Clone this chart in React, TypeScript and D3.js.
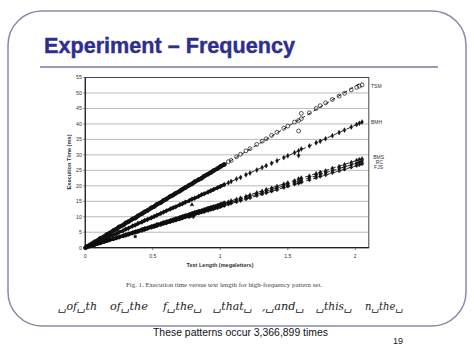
import React from "react";
import * as d3 from "d3";

const textLengths = [0.01, 0.03, 0.05, 0.07, 0.09, 0.11, 0.14, 0.16, 0.18, 0.21, 0.23, 0.25, 0.28, 0.30, 0.32, 0.35, 0.37, 0.39, 0.42, 0.44, 0.46, 0.49, 0.51, 0.53, 0.56, 0.58, 0.60, 0.63, 0.65, 0.67, 0.70, 0.72, 0.74, 0.77, 0.79, 0.81, 0.84, 0.86, 0.88, 0.91, 0.93, 0.95, 0.98, 1.00, 1.03, 1.06, 1.08, 1.12, 1.15, 1.19, 1.22, 1.27, 1.31, 1.34, 1.38, 1.42, 1.47, 1.50, 1.55, 1.58, 1.60, 1.66, 1.71, 1.74, 1.78, 1.83, 1.88, 1.92, 1.97, 2.01, 2.03, 2.05];

const tsm = [0.3, 0.8, 1.3, 1.9, 2.3, 3.0, 3.6, 4.3, 4.7, 5.6, 6.0, 6.7, 7.3, 8.0, 8.4, 9.3, 9.6, 10.3, 11.0, 11.6, 12.0, 12.9, 13.3, 14.0, 14.6, 15.3, 15.7, 16.6, 17.0, 17.6, 18.3, 18.9, 19.4, 20.2, 20.6, 21.3, 22.0, 22.4, 23.1, 23.8, 24.3, 24.9, 25.6, 26.2, 26.9, 27.8, 28.2, 29.4, 30.2, 31.3, 32.0, 33.4, 34.4, 35.2, 36.3, 37.3, 38.6, 39.3, 40.6, 41.1, 41.7, 43.6, 45.0, 45.9, 46.8, 47.9, 49.0, 49.9, 51.0, 51.8, 52.2, 52.6];

const bmh = [0.2, 0.6, 1.0, 1.4, 1.8, 2.2, 2.8, 3.2, 3.6, 4.2, 4.5, 5.0, 5.5, 6.0, 6.3, 7.0, 7.3, 7.8, 8.3, 8.8, 9.1, 9.7, 10.1, 10.5, 11.1, 11.5, 11.9, 12.5, 12.9, 13.2, 13.9, 14.2, 14.7, 15.2, 15.7, 16.0, 16.6, 17.1, 17.4, 18.0, 18.4, 18.8, 19.4, 19.8, 20.4, 21.0, 21.4, 22.2, 22.7, 23.6, 24.1, 25.1, 25.9, 26.5, 27.3, 28.1, 29.1, 29.7, 30.7, 31.3, 31.9, 32.9, 33.9, 34.4, 35.2, 36.2, 37.2, 38.0, 39.0, 39.8, 40.2, 40.6];

const bms = [0.2, 0.4, 0.7, 1.0, 1.3, 1.5, 2.0, 2.2, 2.6, 2.9, 3.3, 3.5, 3.9, 4.2, 4.5, 4.9, 5.2, 5.4, 5.9, 6.2, 6.4, 6.9, 7.1, 7.5, 7.8, 8.2, 8.4, 8.8, 9.1, 9.4, 9.8, 10.1, 10.4, 10.8, 11.1, 11.4, 11.8, 12.0, 12.3, 12.8, 13.0, 13.3, 13.7, 14.0, 14.5, 14.8, 15.2, 15.7, 16.1, 16.6, 17.1, 17.8, 18.3, 18.8, 19.3, 19.9, 20.6, 21.0, 21.7, 22.3, 22.6, 23.2, 24.0, 24.4, 24.9, 25.7, 26.3, 26.9, 27.6, 28.3, 28.5, 28.8];

const rc = [0.1, 0.4, 0.7, 0.9, 1.2, 1.5, 1.9, 2.2, 2.4, 2.9, 3.1, 3.4, 3.8, 4.1, 4.3, 4.8, 5.0, 5.3, 5.7, 6.0, 6.2, 6.7, 6.9, 7.2, 7.6, 7.9, 8.2, 8.6, 8.8, 9.1, 9.5, 9.8, 10.1, 10.5, 10.7, 11.0, 11.4, 11.7, 12.0, 12.4, 12.6, 12.9, 13.3, 13.6, 14.0, 14.4, 14.7, 15.2, 15.6, 16.2, 16.6, 17.3, 17.8, 18.2, 18.8, 19.3, 20.0, 20.4, 21.1, 21.4, 21.8, 22.6, 23.3, 23.7, 24.2, 24.9, 25.6, 26.1, 26.8, 27.3, 27.6, 27.9];

const fjs = [0.1, 0.4, 0.6, 0.9, 1.2, 1.4, 1.8, 2.1, 2.4, 2.8, 3.0, 3.3, 3.7, 3.9, 4.2, 4.6, 4.9, 5.1, 5.5, 5.8, 6.1, 6.5, 6.7, 7.0, 7.4, 7.7, 7.9, 8.3, 8.6, 8.8, 9.2, 9.5, 9.8, 10.0, 10.4, 10.7, 11.1, 11.4, 11.6, 12.0, 12.3, 12.5, 12.9, 13.2, 13.6, 14.0, 14.3, 14.8, 15.2, 15.7, 16.1, 16.8, 17.3, 17.7, 18.2, 18.7, 19.4, 19.8, 20.5, 20.8, 21.1, 21.9, 22.6, 23.0, 23.5, 24.2, 24.8, 25.3, 26.0, 26.5, 26.8, 27.1];

// isolated measurements that fall away from their series' band
const outlierSeries = ["TSM", "TSM", "BMH", "BMS", "RC", "FJS"];
const outlierLength = [1.58, 1.60, 1.58, 0.79, 0.37, 0.80];
const outlierTime = [37.7, 43.4, 29.8, 13.9, 3.6, 10.0];

const xTicks = [0, 0.5, 1, 1.5, 2];
const yTicks = [0, 5, 10, 15, 20, 25, 30, 35, 40, 45, 50, 55];
const patterns = ["␣of␣th", "of␣the", "f␣the␣", "␣that␣", ",␣and␣", "␣this␣", "n␣the␣"];
const patternX = [58, 110, 163, 213, 262, 316, 365];
const patternW = [39, 38, 39, 39, 42, 36, 38];

type Series = { name: string; values: number[]; marker: string; band: number };
const series: Series[] = [
  { name: "TSM", values: tsm, marker: "circle", band: 4.2 },
  { name: "BMH", values: bmh, marker: "diamond", band: 3.2 },
  { name: "BMS", values: bms, marker: "triangle", band: 3.4 },
  { name: "RC", values: rc, marker: "square", band: 2.5 },
  { name: "FJS", values: fjs, marker: "dash", band: 2.5 },
];

const W = 474, H = 355;
const plot = { left: 85.3, right: 368.8, top: 77.5, bottom: 247.7 };
const denseLimit = 1.05;

export default function App() {
  const x = d3.scaleLinear().domain([0, 2.1]).range([plot.left, plot.right]);
  const y = d3.scaleLinear().domain([0, 55]).range([plot.bottom, plot.top]);
  const sym = (m: string) => {
    const t = m === "circle" ? d3.symbolCircle : m === "diamond" ? d3.symbolDiamond : m === "triangle" ? d3.symbolTriangle : m === "square" ? d3.symbolSquare : d3.symbolCross;
    const size = m === "circle" ? 12 : m === "diamond" ? 7 : 6;
    return d3.symbol().type(t).size(size)() as string;
  };
  const markerOf = (name: string) => (series.find((s) => s.name === name) as Series).marker;
  const font = "'Liberation Sans', Arial, sans-serif";
  return (
    <svg width={W} height={H} style={{ position: "absolute", left: 0, top: 0, background: "#fff" }}>
      <rect x={8} y={11} width={458} height={315} rx={34} ry={34} fill="#fff" stroke="#8a8aa6" strokeWidth={1.5} />
      <text x={44} y={53.3} fontFamily={font} fontWeight="bold" fontSize={22} fill="#2e2e8e" stroke="#2e2e8e" strokeWidth={0.4} textLength={251} lengthAdjust="spacingAndGlyphs">Experiment – Frequency</text>
      <line x1={40} x2={438} y1={67} y2={67} stroke="#9a9ab8" strokeWidth={2.2} />

      {yTicks.filter((t) => t > 0 && t < 55).map((t) => (
        <line key={"g" + t} x1={plot.left} x2={plot.right} y1={y(t)} y2={y(t)} stroke="#a8a8a8" strokeWidth={0.8} />
      ))}
      <rect x={plot.left} y={plot.top} width={plot.right - plot.left} height={plot.bottom - plot.top} fill="none" stroke="#444" strokeWidth={1} />
      <line x1={plot.left} x2={plot.right} y1={plot.bottom} y2={plot.bottom} stroke="#222" strokeWidth={1.3} />
      <line x1={plot.left} x2={plot.left} y1={plot.top} y2={plot.bottom} stroke="#222" strokeWidth={1.2} />

      {yTicks.map((t) => (
        <g key={"y" + t}>
          <line x1={plot.left - 2} x2={plot.left} y1={y(t)} y2={y(t)} stroke="#333" strokeWidth={0.6} />
          <text x={plot.left - 3.5} y={y(t) + 1.8} textAnchor="end" fontFamily={font} fontSize={5.2} fill="#333">{t}</text>
        </g>
      ))}
      {xTicks.map((t) => (
        <g key={"x" + t}>
          <line x1={x(t)} x2={x(t)} y1={plot.bottom} y2={plot.bottom + 2.5} stroke="#333" strokeWidth={0.6} />
          <text x={x(t)} y={plot.bottom + 10} textAnchor="middle" fontFamily={font} fontSize={5.2} fill="#333">{t}</text>
        </g>
      ))}
      <text x={220} y={267} textAnchor="middle" fontFamily={font} fontWeight="bold" fontSize={5.2} fill="#333" textLength={67} lengthAdjust="spacingAndGlyphs">Text Length (megaletters)</text>
      <text transform="translate(71,162) rotate(-90)" textAnchor="middle" fontFamily={font} fontWeight="bold" fontSize={5.2} fill="#333" textLength={55} lengthAdjust="spacingAndGlyphs">Execution Time (ms)</text>

      {/* trend lines */}
      {series.map((s) => {
        const sxy = d3.sum(textLengths, (v, i) => v * s.values[i]);
        const sxx = d3.sum(textLengths, (v) => v * v);
        const b = sxy / sxx;
        const xm = d3.max(textLengths) as number;
        return <line key={"t" + s.name} x1={x(0)} y1={y(0)} x2={x(xm)} y2={y(b * xm)} stroke="#111" strokeWidth={0.9} strokeDasharray="4,3" />;
      })}

      {/* dense overlapping measurements */}
      {series.map((s) => {
        const pts = textLengths.map((v, i) => [v, s.values[i]] as [number, number]).filter((p) => p[0] <= denseLimit);
        const line = d3.line<[number, number]>().x((p) => x(p[0])).y((p) => y(p[1]));
        return <path key={"d" + s.name} d={(line([[0, 0], ...pts]) as string)} fill="none" stroke="#111" strokeWidth={s.band} strokeLinecap="round" strokeLinejoin="round" />;
      })}

      {/* markers */}
      {series.map((s) => (
        <g key={"m" + s.name}>
          {s.values.map((v, i) => (
            <path key={i} d={sym(s.marker)} transform={`translate(${x(textLengths[i])},${y(v)})`}
              fill={s.marker === "circle" ? "none" : "#111"} stroke="#111" strokeWidth={s.marker === "circle" ? 0.7 : 0.4} />
          ))}
        </g>
      ))}
      {outlierTime.map((v, i) => {
        const m = markerOf(outlierSeries[i]);
        return (
          <path key={"o" + i} d={sym(m)} transform={`translate(${x(outlierLength[i])},${y(v)})`}
            fill={m === "circle" ? "none" : "#111"} stroke="#111" strokeWidth={m === "circle" ? 0.7 : 0.4} />
        );
      })}

      <text x={371} y={87.5} fontFamily={font} fontSize={5} fill="#333">TSM</text>
      <text x={371} y={123.5} fontFamily={font} fontSize={5} fill="#333">BMH</text>
      <text x={384} y={158.5} textAnchor="end" fontFamily={font} fontSize={5} fill="#333">BMS</text>
      <text x={383} y={163.5} textAnchor="end" fontFamily={font} fontSize={5} fill="#333">RC</text>
      <text x={383} y={168.5} textAnchor="end" fontFamily={font} fontSize={5} fill="#333">FJS</text>

      <text x={224} y={286.5} textAnchor="middle" fontFamily="'Liberation Serif', 'Times New Roman', serif" fontSize={6} fill="#444" textLength={196} lengthAdjust="spacingAndGlyphs">Fig. 1. Execution time versus text length for high-frequency pattern set.</text>

      {patterns.map((p, i) => (
        <text key={p} x={patternX[i]} y={310} fontFamily="'DejaVu Serif', 'Liberation Serif', serif" fontStyle="italic" fontSize={11.5} fill="#222" textLength={patternW[i]} lengthAdjust="spacingAndGlyphs">{p}</text>
      ))}

      <text x={153} y={336} fontFamily={font} fontSize={10} fill="#111" textLength={175} lengthAdjust="spacingAndGlyphs">These patterns occur 3,366,899 times</text>
      <text x={393} y={344} fontFamily={font} fontSize={9} fill="#222">19</text>
    </svg>
  );
}
